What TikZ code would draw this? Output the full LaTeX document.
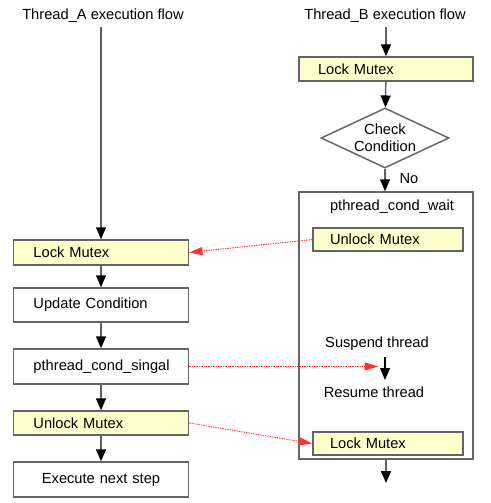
\documentclass[tikz,border=0pt]{standalone}
\usepackage{fontspec}
\setmainfont{Liberation Sans}
\usepackage{tikz}
\usetikzlibrary{calc,shapes.geometric,arrows.meta}
\definecolor{boxline}{RGB}{100,100,100}
\definecolor{mutexfill}{RGB}{255,255,204}
\definecolor{flowgray}{RGB}{96,96,96}
\definecolor{wakered}{RGB}{255,51,51}

\begin{document}
\begin{tikzpicture}[x=0.75pt, y=-0.75pt, every node/.style={font=\fontsize{11}{12.75}\selectfont},
		box/.style={draw=boxline, line width=1.1pt, fill=white, inner ysep=0pt, align=left},
		colA/.style={box, text width=101.25pt, inner xsep=15pt},
		colB/.style={box, text width=102pt, inner xsep=14.25pt},
		inbox/.style={box, text width=87pt, inner xsep=12.75pt},
		mutex/.style={fill=mutexfill},
		flow/.style={draw=flowgray, line width=1.1pt, -{Triangle[width=7.5pt,length=9pt,color=black]}},
		wake/.style={draw=wakered, line width=0.7pt, dash pattern=on 1pt off 0.8pt, -{Triangle[width=6pt,length=10pt]}}]
			\useasboundingbox (0,0) rectangle (490,503);
			
			% Thread A
			\node (titleA) at (103,16) {Thread\_A execution flow};
			\node[colA, mutex, minimum height=18.75pt] (lockA) at (101,252.5) {Lock Mutex};
			\node[colA, minimum height=25.5pt] (update) at (101,305) {Update Condition};
			\node[colA, minimum height=26.25pt] (signal) at (101,366.5) {pthread\_cond\_singal};
			\node[colA, mutex, minimum height=18pt] (unlockA) at (101,423) {Unlock Mutex};
			\node[colA, align=center, minimum height=26.25pt] (nextA) at (101,479.5) {Execute next step};
			\draw[flow] (titleA.south -| lockA) -- (lockA);
			\foreach \a/\b in {lockA/update, update/signal, signal/unlockA, unlockA/nextA}
			{
				\draw[flow] (\a) -- (\b);
			}
			
			% Thread B
			\node (titleB) at (385,16) {Thread\_B execution flow};
			\node[colB, mutex, minimum height=18pt] (lockB) at (386,69) {Lock Mutex};
			\node[draw=boxline, line width=1.1pt, diamond, aspect=2.13, inner sep=0pt, minimum width=96pt, minimum height=45pt, align=center] (check) at (385,138) {Check\\Condition};
			\node[draw=boxline, line width=1.1pt, minimum width=130.5pt, minimum height=200.25pt, inner sep=0pt] (wait) at (386,325.5) {};
			\node (waitname) at (392,207) {pthread\_cond\_wait};
			\node[inbox, mutex, minimum height=17.25pt] (unlockB) at (388,239.5) {Unlock Mutex};
			\node (suspend) at (377,344) {Suspend thread};
			\node (resume) at (374,392) {Resume thread};
			\node[inbox, mutex, minimum height=17.25pt] (lockB2) at (388,443.5) {Lock Mutex};
			\node (no) at (409,179) {No};
			\coordinate (susp) at (385,357);
			\coordinate (resm) at (385,380);
			\coordinate (hit) at (378,367);
			\coordinate (outB) at (386,483);
			\draw[flow] (titleB.south -| lockB) -- (lockB);
			\draw[flow] (lockB) -- (check);
			\draw[flow] (check.south) -- (check.south |- wait.north);
			\draw[flow, draw=black, line width=0.8pt] (susp) -- (resm);
			\draw[flow] (wait.south) -- (outB);
			
			% wake-up signals between the threads
			\draw[wake] (unlockB.west) -- (lockA.east);
			\draw[wake] (signal.east) -- (signal.east -| hit);
			\draw[wake] (unlockA.east) -- (lockB2.west);
			\end{tikzpicture}
\end{document}
